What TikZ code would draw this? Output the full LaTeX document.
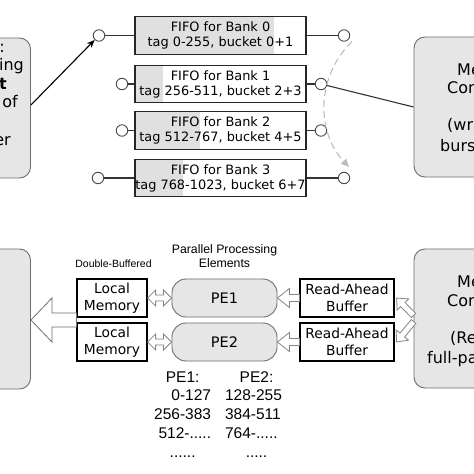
\documentclass[tikz,border=0pt]{standalone}
\usepackage{fontspec}
\setmainfont{DejaVu Sans}
\newfontfamily\arialf{Liberation Sans}
\usetikzlibrary{calc,arrows.meta}
\definecolor{boxgray}{HTML}{E6E6E6}
\definecolor{edgegray}{HTML}{6E6E6E}
\definecolor{fifogray}{HTML}{E0E0E0}
\definecolor{arrgray}{HTML}{858585}
\definecolor{dashgray}{HTML}{BDBDBD}
\newcommand\fsz[2]{\fontsize{#1}{#2}\selectfont}
% single-headed hollow block arrow: [opts]{from}{to}{shaft half}{head half}{head length}
\newcommand\hollowarrow[6][]{%
  \coordinate (ha-h) at ($(#3)!#6!(#2)$);
  \draw[hollow,#1] ($(#2)!#4!90:(#3)$) -- ($(ha-h)!#4!90:(#3)$) -- ($(ha-h)!#5!90:(#3)$) -- (#3)
    -- ($(ha-h)!#5!-90:(#3)$) -- ($(ha-h)!#4!-90:(#3)$) -- ($(#2)!#4!-90:(#3)$) -- cycle;}
% two-headed hollow block arrow
\newcommand\twowayarrow[6][]{%
  \coordinate (ta-a) at ($(#2)!#6!(#3)$);
  \coordinate (ta-b) at ($(#3)!#6!(#2)$);
  \draw[hollow,#1] (#2) -- ($(ta-a)!#5!90:(#3)$) -- ($(ta-a)!#4!90:(#3)$) -- ($(ta-b)!#4!90:(#3)$)
    -- ($(ta-b)!#5!90:(#3)$) -- (#3) -- ($(ta-b)!#5!-90:(#3)$) -- ($(ta-b)!#4!-90:(#3)$)
    -- ($(ta-a)!#4!-90:(#3)$) -- ($(ta-a)!#5!-90:(#3)$) -- cycle;}
\begin{document}
\begin{tikzpicture}[x=1pt,y=-1pt,
  rbox/.style={draw=edgegray, fill=boxgray, rounded corners=11pt, line width=0.9pt, inner sep=0pt},
  pebox/.style={draw=edgegray, fill=boxgray, rounded corners=14pt, line width=0.9pt, inner sep=0pt,
    minimum width=105pt, minimum height=38pt, font=\fsz{14.5}{17}},
  membox/.style={draw=black, fill=white, line width=1.2pt, inner sep=0pt, align=center,
    minimum width=70pt, minimum height=38pt, font=\fsz{13.8}{17.5}},
  fifo/.style={draw=black!85, line width=1.3pt, minimum width=171pt, minimum height=37.5pt,
    inner sep=0pt, align=center, font=\fsz{12.9}{15}},
  fifofill/.style={path picture={\fill[fifogray] (path picture bounding box.north west)
    rectangle ($(path picture bounding box.south west)+(#1,0)$);}},
  port/.style={circle, draw=black!70, fill=white, minimum size=11.5pt, inner sep=0pt, line width=0.9pt},
  wire/.style={draw=black!80, line width=1.1pt},
  hollow/.style={draw=arrgray, fill=white, line width=0.8pt, line join=miter},
  frag/.style={inner sep=0pt, font=\fsz{16}{18.5}},
]
\useasboundingbox (0,0) rectangle (474,474);
\fill[white] (0,0) rectangle (474,474);
\clip (0,0) rectangle (474,474);

% ---------- top half ----------
\node[rbox, minimum width=120pt, minimum height=140pt] (lt) at (-29.5,108) {};
\node[frag, anchor=base east] (lt1) at (5,52) {Stage 1:};
\node[frag, anchor=base east] (lt2) at (24,70.5) {Sorting};
\node[frag, anchor=base east] (lt3) at (7,89) {\textbf{Input}};
\node[frag, anchor=base east] (lt4) at (18,107.5) {List of};
\node[frag, anchor=base east] (lt5) at (11,145) {Buffer};

\node[rbox, minimum width=146pt, minimum height=140pt] (mc1) at (487,107) {};
\node[frag, anchor=base west] (mt1) at (457,75) {Memory};
\node[frag, anchor=base west] (mt2) at (447,93) {Controller};
\node[frag, anchor=base west] (mt3) at (447,130) {(write};
\node[frag, anchor=base west] (mt4) at (440,151) {bursts)};

\node[fifo, fifofill=139] (f0) at (220.5,35.5) {FIFO for Bank 0\\tag 0-255, bucket 0+1};
\node[fifo, fifofill=28] (f1) at (220.5,84) {FIFO for Bank 1\\tag 256-511, bucket 2+3};
\node[fifo, fifofill=65] (f2) at (220.5,130.5) {FIFO for Bank 2\\tag 512-767, bucket 4+5};
\node[fifo, fifofill=48] (f3) at (220.5,178) {FIFO for Bank 3\\tag 768-1023, bucket 6+7};

\node[port] (c0l) at (99,35.5) {};
\node[port] (c1l) at (122,84) {};
\node[port] (c2l) at (122,130.5) {};
\node[port] (c3l) at (98,178) {};
\node[port] (c0r) at (344,35.5) {};
\node[port] (c1r) at (321,84) {};
\node[port] (c2r) at (321,130.5) {};
\node[port] (c3r) at (344,178) {};
\foreach \i in {0,1,2,3}{
  \draw[wire] (c\i l) -- (c\i l -| f\i.west);
  \draw[wire] (c\i r) -- (c\i r -| f\i.east);
}

\coordinate (ltout) at ($(lt.east)+(0,-3)$);
\draw[line width=1.1pt, -{Stealth[length=8pt,width=6.5pt]}] (ltout) -- (c0l);
\draw[wire] (c1r) -- (mc1.west);

\coordinate (dS) at ($(c0r)+(8,6)$);
\coordinate (dE) at ($(c3r)+(5,-11)$);
\draw[dashgray, line width=1.1pt, dash pattern=on 7pt off 4pt, -{Triangle[length=8pt,width=7pt]}]
  (dS) .. controls ($(dS)+(-36,35)$) and ($(dE)+(-33,-35)$) .. (dE);

% ---------- bottom half ----------
\node[rbox, minimum width=121pt, minimum height=140pt] (lb) at (-30,319) {};
\node[rbox, minimum width=146pt, minimum height=139pt] (mc2) at (487,318.5) {};
\node[frag, anchor=base west] (mb1) at (457,287) {Memory};
\node[frag, anchor=base west] (mb2) at (447,306) {Controller};
\node[frag, anchor=base west] (mb3) at (450,343) {(Read};
\node[frag, anchor=base west] (mb4) at (427,363) {full-page};

\node[anchor=base, inner sep=0pt, font=\arialf\fsz{10.5}{12}] (dbl) at (113.5,267) {Double-Buffered};
\node[align=center, inner sep=0pt, font=\arialf\fsz{12.3}{14.5}] (ppe) at (224.5,256) {Parallel Processing\\Elements};

\node[membox] (lm1) at (112,298) {Local\\Memory};
\node[membox] (lm2) at (112,342) {Local\\Memory};
\node[pebox] (pe1) at (224.5,298) {PE1};
\node[pebox] (pe2) at (224.5,342) {PE2};
\node[membox, minimum width=94pt] (ra1) at (347,298) {Read-Ahead\\Buffer};
\node[membox, minimum width=94pt] (ra2) at (347,342) {Read-Ahead\\Buffer};

\coordinate (bigA) at ($(lm1.south west)!.5!(lm2.north west)$);
\coordinate (bigB) at (lb.east |- bigA);
\hollowarrow[draw=edgegray]{bigA}{bigB}{7pt}{22pt}{21pt}

\twowayarrow{lm1.east}{pe1.west}{3pt}{8pt}{8pt}
\twowayarrow{lm2.east}{pe2.west}{3pt}{8pt}{8pt}
\hollowarrow{ra1.west}{pe1.east}{3.5pt}{9.5pt}{12pt}
\hollowarrow{ra2.west}{pe2.east}{3.5pt}{9.5pt}{12pt}

\coordinate (mcA1) at ($(mc2.west)+(0,-3)$);
\coordinate (mcA2) at ($(mc2.west)+(0,3)$);
\coordinate (raB1) at ($(ra1.east)+(2,0)$);
\coordinate (raB2) at ($(ra2.east)+(2,0)$);
\hollowarrow{mcA1}{raB1}{3pt}{8pt}{9pt}
\hollowarrow{mcA2}{raB2}{3pt}{8pt}{9pt}

\node[anchor=north west, inner sep=0pt, font=\arialf\fsz{15.5}{18.7}] (tbl) at (154,369)
{\begin{tabular}{@{}r@{\hspace{14pt}}l@{}}
\multicolumn{1}{@{}c@{\hspace{14pt}}}{PE1:} & \multicolumn{1}{c@{}}{PE2:}\\
0-127 & 128-255\\
256-383 & 384-511\\
512-..... & 764-.....\\
\multicolumn{1}{@{}c@{\hspace{14pt}}}{......} & \multicolumn{1}{c@{}}{.....}
\end{tabular}};
\end{tikzpicture}
\end{document}
